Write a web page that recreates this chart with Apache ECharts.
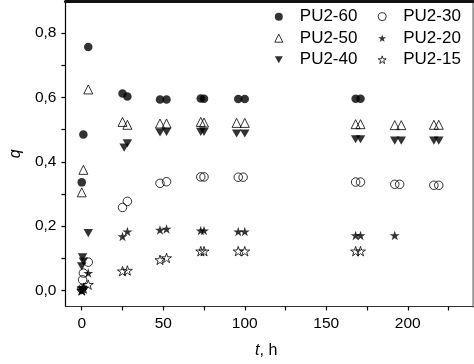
<!DOCTYPE html>
<html>
<head>
<meta charset="utf-8">
<script src="https://cdn.jsdelivr.net/npm/echarts@6/dist/echarts.min.js"></script>
<style>html,body{margin:0;padding:0;background:#fff}#c{width:474px;height:364px}</style>
</head>
<body>
<div id="c"></div>
<script>
// ---- data ----
var seriesNames = ['PU2-60', 'PU2-50', 'PU2-40', 'PU2-30', 'PU2-20', 'PU2-15'];

var t60 = [0, 1, 4, 25, 28, 48, 52, 73, 75, 96, 100, 168, 171];
var q60 = [0.336, 0.485, 0.757, 0.612, 0.603, 0.594, 0.594, 0.597, 0.596, 0.595, 0.595, 0.596, 0.596];

var t50 = [0, 1, 4, 25, 28, 48, 52, 73, 75, 95, 100, 168, 171, 192, 196, 216, 219];
var q50 = [0.305, 0.375, 0.625, 0.524, 0.515, 0.519, 0.519, 0.524, 0.522, 0.521, 0.521, 0.517, 0.517, 0.514, 0.514, 0.515, 0.515];

var t40 = [0, 0, 0.5, 1, 4, 26, 28, 48, 52, 73, 75, 95, 100, 168, 171, 192, 196, 216, 219];
var q40 = [0.0, 0.075, 0.103, 0.09, 0.178, 0.444, 0.457, 0.491, 0.493, 0.493, 0.493, 0.488, 0.488, 0.47, 0.47, 0.466, 0.466, 0.466, 0.466];

var t30 = [0, 0.5, 1, 4, 25, 28, 48, 52, 73, 75, 96, 99, 168, 171, 192, 195, 216, 219];
var q30 = [0.005, 0.033, 0.054, 0.088, 0.258, 0.277, 0.333, 0.338, 0.353, 0.353, 0.352, 0.352, 0.337, 0.337, 0.330, 0.330, 0.327, 0.327];

var t20 = [0, 1, 4, 25, 28, 48, 52, 73, 75, 96, 100, 168, 171, 192];
var q20 = [0.0, 0.01, 0.054, 0.168, 0.183, 0.188, 0.191, 0.186, 0.186, 0.183, 0.183, 0.171, 0.171, 0.171];

var t15 = [0, 1, 4, 25, 28, 48, 52, 73, 75, 96, 100, 168, 171];
var q15 = [0.0, 0.006, 0.018, 0.060, 0.062, 0.095, 0.101, 0.122, 0.122, 0.122, 0.122, 0.122, 0.122];

var xTickLabels = [0, 50, 100, 150, 200];
var xTicks = [0, 25, 50, 75, 100, 125, 150, 175, 200, 225];
var yTickLabels = [0, 0.2, 0.4, 0.6, 0.8];
var yTicks = [0, 0.1, 0.2, 0.3, 0.4, 0.5, 0.6, 0.7, 0.8];

// ---- build ----
function pairs(t, q) { return t.map(function (v, i) { return [v, q[i]]; }); }
var STAR = 'path://M50,0 L61.2,34.5 L97.6,34.5 L68.2,55.9 L79.4,90.5 L50,69.1 L20.6,90.5 L31.8,55.9 L2.4,34.5 L38.8,34.5 Z';
var DOWN = 'path://M0,0 L100,0 L50,86 Z';
var FONT = '"Liberation Sans", Arial, sans-serif';
var OPEN = 'rgba(255,255,255,0)';

var styles = [
  { symbol: 'circle', size: 8.5, fill: '#000' },
  { symbol: 'triangle', size: 9, fill: OPEN },
  { symbol: DOWN, size: 9.5, fill: '#000' },
  { symbol: 'circle', size: 8.5, fill: OPEN },
  { symbol: STAR, size: 10, fill: '#000' },
  { symbol: STAR, size: 10, fill: OPEN }
];
var datas = [pairs(t60, q60), pairs(t50, q50), pairs(t40, q40), pairs(t30, q30), pairs(t20, q20), pairs(t15, q15)];

function itemStyleOf(i) {
  var open = styles[i].fill === OPEN;
  return { color: styles[i].fill, borderColor: '#000', borderWidth: open ? 1 : 0 };
}

var series = seriesNames.map(function (n, i) {
  return {
    name: n, type: 'scatter', xAxisIndex: 0, yAxisIndex: 0,
    symbol: styles[i].symbol, symbolSize: styles[i].size, symbolKeepAspect: true,
    itemStyle: itemStyleOf(i),
    data: datas[i]
  };
});

var XMIN = -10, XMAX = 240, YMIN = -0.05, YMAX = 0.9;
function fmt(v) { return v.toFixed(1).replace('.', ','); }

function legendData(from, to) {
  var out = [];
  for (var i = from; i < to; i++) {
    out.push({ name: seriesNames[i], icon: styles[i].symbol, itemStyle: itemStyleOf(i) });
  }
  return out;
}

var legendBase = {
  orient: 'vertical', top: 6.7, padding: 0, itemWidth: 8, itemHeight: 8, itemGap: 1.5,
  textStyle: { fontFamily: FONT, fontSize: 17, color: '#000', lineHeight: 20, padding: [0, 0, 0, 12] },
  selectedMode: false
};

var option = {
  animation: false,
  backgroundColor: '#fff',
  textStyle: { fontFamily: FONT },
  grid: { left: 62, right: 1, top: 1, bottom: 57.5 },
  legend: [
    Object.assign({}, legendBase, { left: 274.3, data: legendData(0, 3) }),
    Object.assign({}, legendBase, { left: 377.7, data: legendData(3, 6) })
  ],
  xAxis: [
    {
      type: 'value', min: XMIN, max: XMAX, position: 'bottom',
      name: '{i|t}, h', nameLocation: 'middle', nameGap: 36,
      nameTextStyle: { fontSize: 16, color: '#000', fontFamily: FONT, padding: [0, 0, 0, -6],
        rich: { i: { fontStyle: 'italic', fontSize: 16, fontFamily: FONT, color: '#000' } } },
      axisLine: { show: true, onZero: false, lineStyle: { color: '#333', width: 1.2 } },
      axisTick: { show: true, inside: false, length: 4, customValues: xTicks, lineStyle: { color: '#000', width: 1.2 } },
      axisLabel: { customValues: xTickLabels, margin: 9, fontSize: 15.5, color: '#000', fontFamily: FONT },
      splitLine: { show: false }
    },
    {
      type: 'value', min: XMIN, max: XMAX, position: 'top', gridIndex: 0,
      axisLine: { show: true, onZero: false, lineStyle: { color: '#111', width: 3 } },
      axisTick: { show: false }, axisLabel: { show: false }, splitLine: { show: false }
    }
  ],
  yAxis: [
    {
      type: 'value', min: YMIN, max: YMAX, position: 'left',
      name: 'q', nameLocation: 'middle', nameGap: 40,
      nameTextStyle: { fontSize: 16, fontStyle: 'italic', color: '#000', fontFamily: FONT },
      axisLine: { show: true, onZero: false, lineStyle: { color: '#000', width: 1.2 } },
      axisTick: { show: true, inside: false, length: 4, customValues: yTicks, lineStyle: { color: '#000', width: 1.2 } },
      axisLabel: { customValues: yTickLabels, margin: 9, fontSize: 15.5, color: '#000', fontFamily: FONT, formatter: fmt },
      splitLine: { show: false }
    },
    {
      type: 'value', min: YMIN, max: YMAX, position: 'right', gridIndex: 0,
      axisLine: { show: true, onZero: false, lineStyle: { color: '#999', width: 2.5 } },
      axisTick: { show: false }, axisLabel: { show: false }, splitLine: { show: false }
    }
  ],
  series: series
};

var chart = echarts.init(document.getElementById('c'), null, { renderer: 'canvas' });
chart.setOption(option);
</script>
</body>
</html>
